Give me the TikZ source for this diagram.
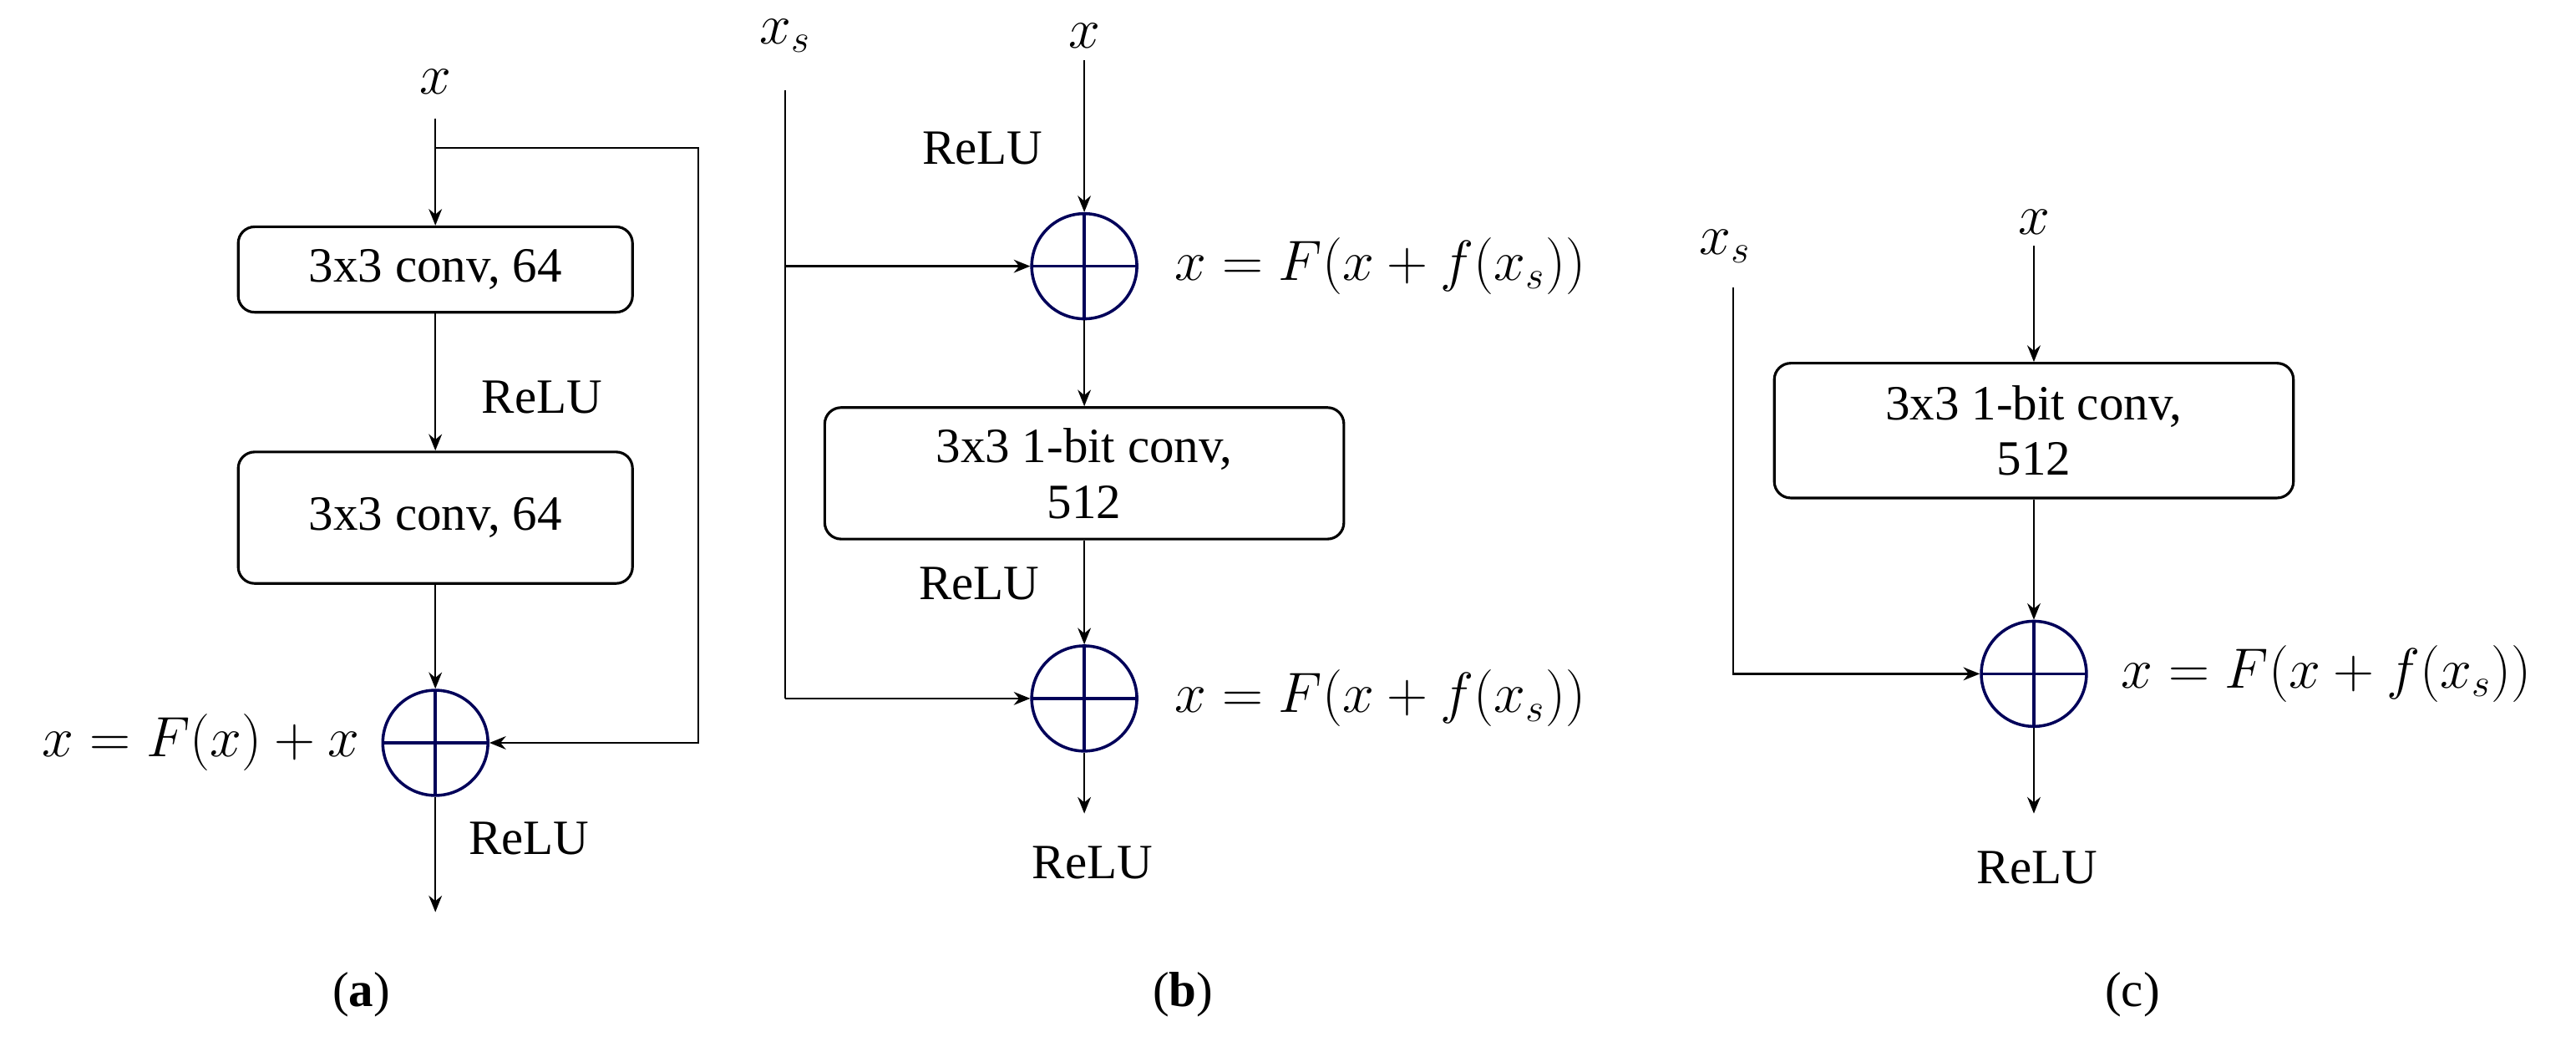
\documentclass[tikz,border=0pt]{standalone}
\usepackage{fontspec}
\setmainfont{Liberation Serif}
\usetikzlibrary{arrows.meta}
\begin{document}
\begin{tikzpicture}[x=0.5pt,y=-0.5pt,
 every node/.style={font=\fontsize{15}{17}\selectfont},
 mth/.style={font=\fontsize{17}{19}\selectfont},
 box/.style={draw,rounded corners=5pt,line width=0.8pt,inner sep=0pt,align=center},
 sum/.style={draw=blue!35!black,circle,line width=0.9pt,minimum size=32pt,inner sep=0pt,
  path picture={\draw[blue!35!black,line width=0.9pt] (path picture bounding box.north)--(path picture bounding box.south) (path picture bounding box.west)--(path picture bounding box.east);}},
 arr/.style={-{Stealth[length=5pt,width=4pt]},line width=0.6pt},
 ln/.style={line width=0.6pt}]
\useasboundingbox (0,0) rectangle (1568,640);
% (a)
\node[mth] (ax) at (265,50) {$x$};
\coordinate (asp) at (265,90);
\node[box,minimum width=120pt,minimum height=26pt] (ab1) at (265,164) {3x3 conv, 64};
\node[box,minimum width=120pt,minimum height=40pt] (ab2) at (265,315) {3x3 conv, 64};
\node[sum] (as) at (265,452) {};
\coordinate (aout) at (265,555);
\coordinate (ar1) at (425,90); \coordinate (ar2) at (425,452);
\draw[ln] (265,72) -- (asp);
\draw[arr] (asp) -- (ab1.north);
\draw[arr] (asp) -- (ar1) -- (ar2) -- (as.east);
\draw[arr] (ab1.south) -- (ab2.north);
\draw[arr] (ab2.south) -- (as.north);
\draw[arr] (as.south) -- (aout);
\node (arl1) at (330,242) {ReLU};
\node (arl2) at (322,510) {ReLU};
\node[mth,anchor=east] (aeq) at (226,452) {$x=F(x)+x$};
\node (acap) at (220,605) {(\textbf{a})};
% (b)
\node[mth] (bxs) at (478,22) {$x_s$};
\node[mth] (bx) at (660,22) {$x$};
\node[sum] (bs1) at (660,162) {};
\node[box,minimum width=158pt,minimum height=40pt] (bb) at (660,288) {3x3 1-bit conv,\\512};
\node[sum] (bs2) at (660,425) {};
\coordinate (bt) at (478,55); \coordinate (bm1) at (478,162); \coordinate (bm2) at (478,425);
\coordinate (bout) at (660,495);
\draw[ln] (bt) -- (bm2);
\draw[arr] (bm1) -- (bs1.west);
\draw[arr] (bm2) -- (bs2.west);
\draw[arr] (bx) -- (bs1.north);
\draw[arr] (bs1.south) -- (bb.north);
\draw[arr] (bb.south) -- (bs2.north);
\draw[arr] (bs2.south) -- (bout);
\node (brl1) at (598,90) {ReLU};
\node (brl2) at (596,355) {ReLU};
\node (brl3) at (665,525) {ReLU};
\node[mth,anchor=west] (beq1) at (708,162) {$x=F(x+f(x_s))$};
\node[mth,anchor=west] (beq2) at (708,425) {$x=F(x+f(x_s))$};
\node (bcap) at (720,605) {(\textbf{b})};
% (c)
\node[mth] (cxs) at (1050,150) {$x_s$};
\node[mth] (cx) at (1238,135) {$x$};
\node[box,minimum width=158pt,minimum height=41pt] (cb) at (1238,262) {3x3 1-bit conv,\\512};
\node[sum] (cs) at (1238,410) {};
\coordinate (ct) at (1055,175); \coordinate (cm) at (1055,410);
\coordinate (cout) at (1238,495);
\draw[arr] (ct) -- (cm) -- (cs.west);
\draw[arr] (cx) -- (cb.north);
\draw[arr] (cb.south) -- (cs.north);
\draw[arr] (cs.south) -- (cout);
\node (crl) at (1240,528) {ReLU};
\node[mth,anchor=west] (ceq) at (1284,410) {$x=F(x+f(x_s))$};
\node (ccap) at (1298,605) {(c)};
\end{tikzpicture}
\end{document}
